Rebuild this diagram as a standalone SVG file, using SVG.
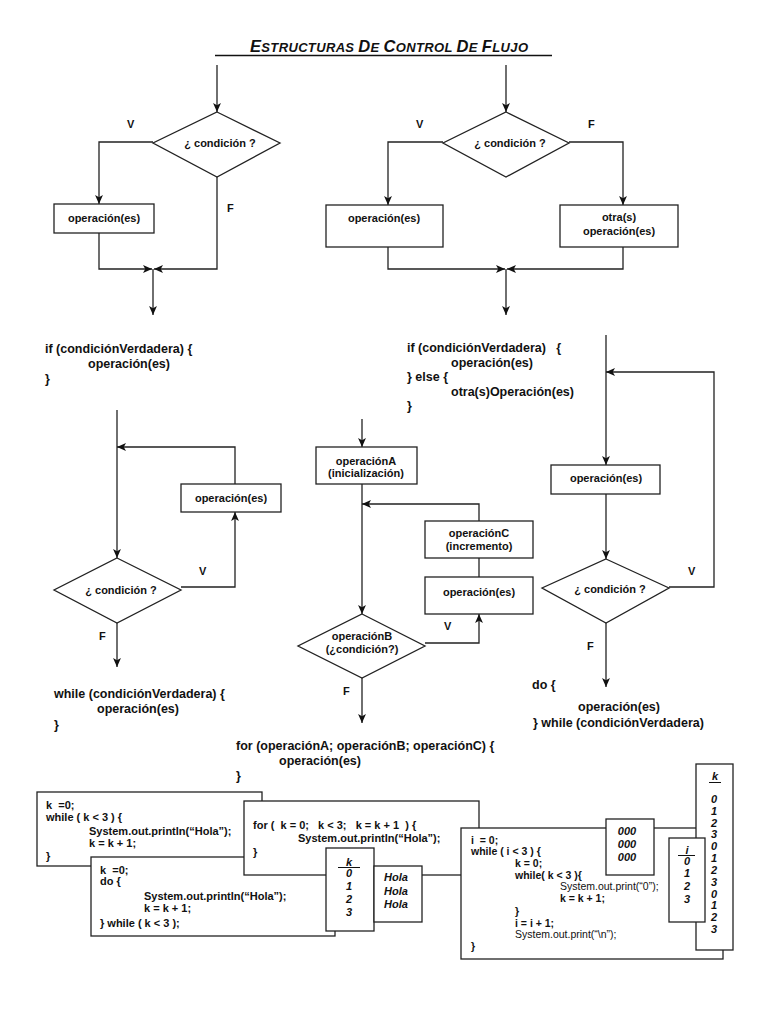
<svg xmlns="http://www.w3.org/2000/svg" width="768" height="1024" viewBox="0 0 768 1024">
<defs>
<marker id="ah" markerUnits="userSpaceOnUse" markerWidth="9" markerHeight="9" viewBox="0 0 8 8" refX="8" refY="4" orient="auto">
<path d="M0,0.5 L8,4 L0,7.5 L2,4 z" fill="#111"/>
</marker>
<style>
text{font-family:"Liberation Sans",Arial,sans-serif;fill:#111;}
.box{fill:#fff;stroke:#222;stroke-width:1.3;}
.ln{fill:none;stroke:#222;stroke-width:1.3;}
.arr{fill:none;stroke:#222;stroke-width:1.3;marker-end:url(#ah);}
.lbl{font-size:11px;font-weight:bold;text-anchor:middle;}
.vf{font-size:11px;font-weight:bold;}
.code{font-size:12.5px;font-weight:bold;}
.bc{font-size:11px;font-weight:bold;}
.nc{font-size:10.5px;font-weight:bold;}
.nr{font-size:10.5px;font-weight:normal;}
.it{font-size:11px;font-weight:bold;font-style:italic;text-anchor:middle;}
.title{font-weight:bold;font-style:italic;font-size:13px;}
.big{font-size:16.5px;}
</style>
</defs>
<rect width="768" height="1024" fill="#fff"/>

<g id="title">
<text x="250" y="52" class="title" textLength="278" lengthAdjust="spacing"><tspan class="big">E</tspan>STRUCTURAS <tspan class="big">D</tspan>E <tspan class="big">C</tspan>ONTROL <tspan class="big">D</tspan>E <tspan class="big">F</tspan>LUJO</text>
<line x1="215" y1="55.5" x2="552" y2="55.5" stroke="#111" stroke-width="1.6"/>
</g>

<g id="connectors">
<!-- if -->
<path class="arr" d="M217,65 V112"/>
<path class="arr" d="M153,142 H99 V204"/>
<path class="arr" d="M217,177 V269 H154"/>
<path class="arr" d="M99,233 V269 H152"/>
<path class="arr" d="M153,269 V315"/>
<!-- if else -->
<path class="arr" d="M506,65 V112"/>
<path class="arr" d="M443,142 H388 V205"/>
<path class="arr" d="M569,142 H623 V205"/>
<path class="arr" d="M388,247 V269 H505"/>
<path class="arr" d="M623,247 V269 H507"/>
<path class="arr" d="M506,269 V315"/>
<!-- while -->
<path class="arr" d="M117,410 V558"/>
<path class="arr" d="M235,484 V447 H117"/>
<path class="arr" d="M181,587 H235 V512"/>
<path class="arr" d="M117,623 V667"/>
<!-- for -->
<path class="arr" d="M362,419 V447"/>
<path class="arr" d="M362,484 V614"/>
<path class="arr" d="M479,521 V504 H362"/>
<path class="ln" d="M479,558 V577"/>
<path class="arr" d="M425,643 H479 V614"/>
<path class="arr" d="M362,678 V723"/>
<!-- do while -->
<path class="arr" d="M606,335 V465"/>
<path class="arr" d="M606,494 V559"/>
<path class="arr" d="M669,587 H714 V372 H606"/>
<path class="arr" d="M606,623 V687"/>
</g>

<g id="labels">
<text class="vf" x="127" y="128">V</text>
<text class="vf" x="227" y="212">F</text>
<text class="vf" x="416" y="128">V</text>
<text class="vf" x="588" y="128">F</text>
<text class="vf" x="199" y="575">V</text>
<text class="vf" x="99" y="640">F</text>
<text class="vf" x="444" y="630">V</text>
<text class="vf" x="343" y="695">F</text>
<text class="vf" x="688" y="575">V</text>
<text class="vf" x="587" y="650">F</text>
</g>

<!-- IF -->
<g id="if-cond">
<polygon class="box" points="217,112 280,143 217,177 153,143"/>
<text class="lbl" x="220" y="147">¿ condición ?</text>
</g>
<g id="if-op">
<rect class="box" x="54" y="204" width="100" height="29"/>
<text class="lbl" x="104" y="222">operación(es)</text>
</g>
<g id="if-code">
<text class="code" x="45" y="353">if (condiciónVerdadera) {</text>
<text class="code" x="88" y="368">operación(es)</text>
<text class="code" x="45" y="383">}</text>
</g>

<!-- IF ELSE -->
<g id="ifelse-cond">
<polygon class="box" points="506,112 569,143 506,177 443,143"/>
<text class="lbl" x="510" y="147">¿ condición ?</text>
</g>
<g id="ifelse-op">
<rect class="box" x="326" y="205" width="117" height="42"/>
<text class="lbl" x="384" y="222">operación(es)</text>
</g>
<g id="ifelse-other">
<rect class="box" x="560" y="205" width="118" height="42"/>
<text class="lbl" x="619" y="221">otra(s)</text>
<text class="lbl" x="619" y="235">operación(es)</text>
</g>
<g id="ifelse-code">
<text class="code" x="407" y="352" xml:space="preserve">if (condiciónVerdadera)   {</text>
<text class="code" x="451" y="366.5">operación(es)</text>
<text class="code" x="407" y="381">} else {</text>
<text class="code" x="451" y="395.5">otra(s)Operación(es)</text>
<text class="code" x="407" y="410">}</text>
</g>

<!-- WHILE -->
<g id="while-op">
<rect class="box" x="181" y="484" width="100" height="28"/>
<text class="lbl" x="231" y="502">operación(es)</text>
</g>
<g id="while-cond">
<polygon class="box" points="117,558 181,590 117,623 54,590"/>
<text class="lbl" x="121" y="594">¿ condición ?</text>
</g>
<g id="while-code">
<text class="code" x="54" y="698">while (condiciónVerdadera) {</text>
<text class="code" x="97" y="713">operación(es)</text>
<text class="code" x="54" y="729">}</text>
</g>

<!-- FOR -->
<g id="for-a">
<rect class="box" x="316" y="447" width="101" height="37"/>
<text class="lbl" x="366" y="465">operaciónA</text>
<text class="lbl" x="366" y="477">(inicialización)</text>
</g>
<g id="for-c">
<rect class="box" x="425" y="521" width="108" height="37"/>
<text class="lbl" x="479" y="537">operaciónC</text>
<text class="lbl" x="479" y="550">(incremento)</text>
</g>
<g id="for-op">
<rect class="box" x="425" y="577" width="108" height="37"/>
<text class="lbl" x="479" y="596">operación(es)</text>
</g>
<g id="for-b">
<polygon class="box" points="362,614 425,646 362,678 298,646"/>
<text class="lbl" x="362" y="640">operaciónB</text>
<text class="lbl" x="362" y="653">(¿condición?)</text>
</g>
<g id="for-code">
<text class="code" x="236" y="750">for (operaciónA; operaciónB; operaciónC) {</text>
<text class="code" x="279" y="765">operación(es)</text>
<text class="code" x="236" y="780">}</text>
</g>

<!-- DO WHILE -->
<g id="do-op">
<rect class="box" x="551" y="465" width="109" height="29"/>
<text class="lbl" x="606" y="482">operación(es)</text>
</g>
<g id="do-cond">
<polygon class="box" points="606,559 669,588 606,623 542,588"/>
<text class="lbl" x="610" y="593">¿ condición ?</text>
</g>
<g id="do-code">
<text class="code" x="532" y="689">do {</text>
<text class="code" x="578" y="711">operación(es)</text>
<text class="code" x="533" y="727">} while (condiciónVerdadera)</text>
</g>

<!-- BOTTOM CODE BOXES -->
<g id="code-while">
<rect class="box" x="37" y="792" width="225" height="74"/>
<text class="bc" x="46" y="809" xml:space="preserve">k  =0;</text>
<text class="bc" x="46" y="821">while ( k &lt; 3 ) {</text>
<text class="bc" x="89" y="835">System.out.println(“Hola”);</text>
<text class="bc" x="89" y="847">k = k + 1;</text>
<text class="bc" x="46" y="860">}</text>
</g>
<g id="code-do">
<rect class="box" x="91" y="857" width="244" height="79"/>
<text class="bc" x="100" y="874" xml:space="preserve">k  =0;</text>
<text class="bc" x="100" y="885">do {</text>
<text class="bc" x="144" y="900">System.out.println(“Hola”);</text>
<text class="bc" x="144" y="912">k = k + 1;</text>
<text class="bc" x="100" y="927">} while ( k &lt; 3 );</text>
</g>
<g id="code-for">
<rect class="box" x="244" y="801" width="235" height="74"/>
<text class="bc" x="253" y="829" xml:space="preserve">for (  k = 0;   k &lt; 3;   k = k + 1  ) {</text>
<text class="bc" x="298" y="842">System.out.println(“Hola”);</text>
<text class="bc" x="253" y="856">}</text>
</g>
<g id="table-k-for">
<rect class="box" x="326" y="848" width="48" height="83"/>
<text class="it" x="349" y="866">k</text>
<line x1="338" y1="867.5" x2="360" y2="867.5" stroke="#111" stroke-width="1"/>
<text class="it" x="349" y="877">0</text>
<text class="it" x="349" y="890">1</text>
<text class="it" x="349" y="903">2</text>
<text class="it" x="349" y="916">3</text>
</g>
<g id="output-hola">
<rect class="box" x="374" y="866" width="48" height="56"/>
<text class="it" x="396" y="881">Hola</text>
<text class="it" x="396" y="895">Hola</text>
<text class="it" x="396" y="908">Hola</text>
</g>
<g id="code-nested">
<rect class="box" x="461" y="828" width="262" height="131"/>
<text class="nc" x="471" y="844" xml:space="preserve">i  = 0;</text>
<text class="nc" x="471" y="855">while ( i &lt; 3 ) {</text>
<text class="nc" x="515" y="867">k = 0;</text>
<text class="nc" x="515" y="879">while( k &lt; 3 ){</text>
<text class="nr" x="560" y="890">System.out.print(“0”);</text>
<text class="nc" x="560" y="902">k = k + 1;</text>
<text class="nc" x="515" y="915">}</text>
<text class="nc" x="515" y="927">i = i + 1;</text>
<text class="nr" x="515" y="938">System.out.print(“\n”);</text>
<text class="nc" x="471" y="950">}</text>
</g>
<g id="output-000">
<rect class="box" x="606" y="819" width="48" height="56"/>
<text class="it" x="627" y="835">000</text>
<text class="it" x="627" y="848">000</text>
<text class="it" x="627" y="861">000</text>
</g>
<g id="table-k-nested">
<rect class="box" x="696" y="764" width="37" height="186"/>
<text class="it" x="715" y="780">k</text>
<line x1="709" y1="782.5" x2="721" y2="782.5" stroke="#111" stroke-width="1"/>
<text class="it" x="714" y="803">0</text>
<text class="it" x="714" y="815">1</text>
<text class="it" x="714" y="827">2</text>
<text class="it" x="714" y="838">3</text>
<text class="it" x="714" y="850">0</text>
<text class="it" x="714" y="862">1</text>
<text class="it" x="714" y="874">2</text>
<text class="it" x="714" y="886">3</text>
<text class="it" x="714" y="898">0</text>
<text class="it" x="714" y="909">1</text>
<text class="it" x="714" y="921">2</text>
<text class="it" x="714" y="933">3</text>
</g>
<g id="table-i">
<rect class="box" x="669" y="838" width="36" height="84"/>
<text class="it" x="687" y="854">i</text>
<line x1="678" y1="855.5" x2="695" y2="855.5" stroke="#111" stroke-width="1"/>
<text class="it" x="687" y="865">0</text>
<text class="it" x="687" y="877">1</text>
<text class="it" x="687" y="890">2</text>
<text class="it" x="687" y="903">3</text>
</g>
</svg>
